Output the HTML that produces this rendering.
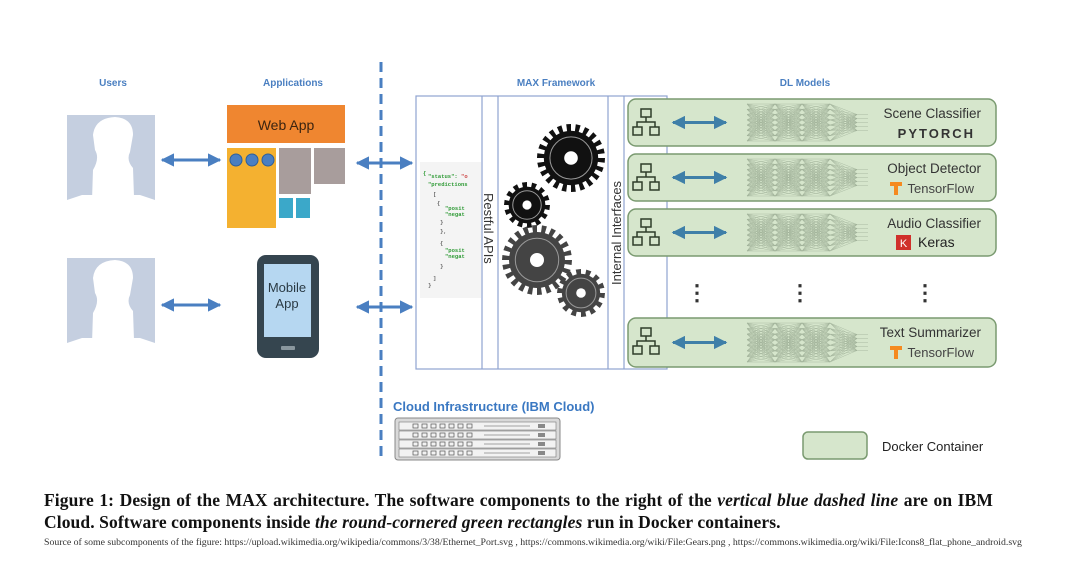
<!DOCTYPE html>
<html><head><meta charset="utf-8"><style>
html,body{margin:0;padding:0;background:#fff;}
body{width:1080px;height:569px;overflow:hidden;position:relative;font-family:"Liberation Sans",sans-serif;}
.cap{position:absolute;left:44px;font-family:"Liberation Serif",serif;font-weight:bold;font-size:17.5px;color:#111;white-space:nowrap;letter-spacing:0.1px}
.src{position:absolute;left:44px;top:537px;font-family:"Liberation Serif",serif;font-size:9.8px;color:#333;white-space:nowrap}
</style></head><body>
<svg id="s" width="1080" height="569" style="position:absolute;left:0;top:0">
<defs>
<marker id="ah" viewBox="0 0 10 10" refX="9" refY="5" markerWidth="4.5" markerHeight="4.5" orient="auto-start-reverse"><path d="M0,0 L10,5 L0,10 z" fill="#4a7fc1"/></marker>
<marker id="ah2" viewBox="0 0 10 10" refX="9" refY="5" markerWidth="4.5" markerHeight="4.5" orient="auto-start-reverse"><path d="M0,0 L10,5 L0,10 z" fill="#3f7fa8"/></marker>
</defs>
<g font-family="Liberation Sans" font-weight="bold" font-size="10" fill="#4a7fc1" text-anchor="middle">
<text x="113" y="86">Users</text><text x="293" y="86">Applications</text>
<text x="556" y="86">MAX Framework</text><text x="805" y="86">DL Models</text>
</g>
<line x1="381" y1="62" x2="381" y2="462" stroke="#4a7fc1" stroke-width="3" stroke-dasharray="10,6"/>
<g id="u1">
<path d="M67,115 H155 V200 L140,195 H82 L67,200 Z" fill="#c5cfe0"/>
<path d="M92,200 L93,170 Q100,158 95,150 L93,135 Q95,118 115,117 Q133,118 133,135 L130,152 Q126,160 133,168 L134,197 Z" fill="#fff"/>
</g>
<use href="#u1" transform="translate(0,143)"/>
<g stroke="#4a7fc1" stroke-width="3" marker-start="url(#ah)" marker-end="url(#ah)">
<line x1="162" y1="160" x2="220" y2="160"/><line x1="162" y1="305" x2="220" y2="305"/>
<line x1="357" y1="163" x2="412" y2="163"/><line x1="357" y1="307" x2="412" y2="307"/>
</g>
<rect x="227" y="105" width="118" height="38" fill="#ef8630"/>
<text x="286" y="130" text-anchor="middle" font-size="14" fill="#3b2410">Web App</text>
<rect x="227" y="148" width="49" height="80" fill="#f4b130"/>
<rect x="279" y="148" width="32" height="46" fill="#a89d9c"/>
<rect x="314" y="148" width="31" height="36" fill="#a89d9c"/>
<rect x="279" y="198" width="14" height="20" fill="#3ba8c9"/>
<rect x="296" y="198" width="14" height="20" fill="#3ba8c9"/>
<g fill="#4a7fc1" stroke="#2d5f9a" stroke-width="1"><circle cx="236" cy="160" r="6"/><circle cx="252" cy="160" r="6"/><circle cx="268" cy="160" r="6"/></g>
<rect x="257" y="255" width="62" height="103" rx="9" fill="#35454f"/>
<rect x="264" y="264" width="47" height="73" fill="#b6d7f1"/>
<rect x="281" y="346" width="14" height="4" rx="1" fill="#8a979e"/>
<text x="287" y="292" text-anchor="middle" font-size="13" fill="#2a3a44">Mobile</text>
<text x="287" y="308" text-anchor="middle" font-size="13" fill="#2a3a44">App</text>
<rect x="420" y="162" width="61" height="136" fill="#f4f4f4"/>
<g font-family="Liberation Mono" font-size="5.5" font-weight="bold" fill="#2e9a35">
<text x="423" y="175">{</text><text x="428" y="178">"status": <tspan fill="#c44">"o</tspan></text><text x="428" y="186">"predictions</text>
<text x="433" y="196" fill="#666">[</text><text x="437" y="205" fill="#666">{</text>
<text x="445" y="210">"posit</text><text x="445" y="216">"negat</text><text x="440" y="224" fill="#666">}</text>
<text x="440" y="233" fill="#666">},</text><text x="440" y="245" fill="#666">{</text>
<text x="445" y="252">"posit</text><text x="445" y="258">"negat</text><text x="440" y="268" fill="#666">}</text>
<text x="433" y="280" fill="#666">]</text><text x="428" y="287" fill="#666">}</text>
</g>
<g fill="none" stroke="#8fa4d0" stroke-width="1.2">
<rect x="416" y="96" width="251" height="273"/>
<line x1="482" y1="96" x2="482" y2="369"/><line x1="498" y1="96" x2="498" y2="369"/>
<line x1="608" y1="96" x2="608" y2="369"/><line x1="624" y1="96" x2="624" y2="369"/>
</g>
<text transform="translate(484,193) rotate(90)" font-size="13" fill="#333">Restful APIs</text>
<text transform="translate(621,285) rotate(-90)" font-size="13" fill="#333">Internal Interfaces</text>
<g id="gears"></g>
<g id="dl"></g>
<g font-size="22" fill="#333" font-weight="bold" text-anchor="middle">
<text x="697" y="300">⋮</text><text x="800" y="300">⋮</text><text x="925" y="300">⋮</text></g>
<text x="393" y="411" font-size="13" font-weight="bold" fill="#3a78c2">Cloud Infrastructure (IBM Cloud)</text>
<rect x="395" y="418" width="165" height="42" rx="3" fill="#d9d9d9" stroke="#888"/>
<g id="srv"></g>
<rect x="803" y="432" width="64" height="27" rx="5" fill="#d6e6cc" stroke="#7a9a70" stroke-width="1.5"/>
<text x="882" y="451" font-size="13" fill="#222">Docker Container</text>
</svg>
<div class="cap" style="top:490px;word-spacing:1px">Figure 1: Design of the MAX architecture. The software components to the right of the <i>vertical blue dashed line</i> are on IBM</div>
<div class="cap" style="top:512px">Cloud. Software components inside <i>the round-cornered green rectangles</i> run in Docker containers.</div>
<div class="src">Source of some subcomponents of the figure: https://upload.wikimedia.org/wikipedia/commons/3/38/Ethernet_Port.svg , https://commons.wikimedia.org/wiki/File:Gears.png , https://commons.wikimedia.org/wiki/File:Icons8_flat_phone_android.svg</div>
<script>
const NS="http://www.w3.org/2000/svg";
function el(t,a,p){const e=document.createElementNS(NS,t);for(const k in a)e.setAttribute(k,a[k]);p.appendChild(e);return e;}
function gear(p,cx,cy,r,n,col){let d="";const ri=r*0.8;for(let i=0;i<n*2;i++){const a0=i*Math.PI/n,a1=(i+1)*Math.PI/n;const rr=i%2?ri:r;d+=(i?"L":"M")+(cx+rr*Math.cos(a0)).toFixed(1)+","+(cy+rr*Math.sin(a0)).toFixed(1)+"L"+(cx+rr*Math.cos(a1)).toFixed(1)+","+(cy+rr*Math.sin(a1)).toFixed(1);}d+="Z";el("path",{d:d,fill:col},p);el("circle",{cx:cx,cy:cy,r:r*0.62,fill:"none",stroke:"#999","stroke-width":1},p);el("circle",{cx:cx,cy:cy,r:r*0.2,fill:"#fff"},p);}
const g=document.getElementById("gears");
gear(g,571,158,34,22,"#111");gear(g,527,205,23,14,"#111");gear(g,537,260,35,22,"#444");gear(g,581,293,24,14,"#444");
const dl=document.getElementById("dl");
const rows=[[99,47,"Scene Classifier","pt"],[154,47,"Object Detector","tf"],[209,47,"Audio Classifier","k"],[318,49,"Text Summarizer","tf"]];
rows.forEach(([y,h,name,fw])=>{
el("rect",{x:628,y:y,width:368,height:h,rx:8,fill:"#d6e6cc",stroke:"#7a9a70","stroke-width":1.5},dl);
const ix=632,iy=y+10;
const ic=el("g",{fill:"none",stroke:"#2f3d2a","stroke-width":1.5},dl);
el("rect",{x:ix+9,y:iy,width:10,height:8},ic);el("rect",{x:ix+1,y:iy+18,width:9,height:8},ic);el("rect",{x:ix+18,y:iy+18,width:9,height:8},ic);
el("path",{d:`M${ix+14},${iy+8}V${iy+13}M${ix+5},${iy+18}V${iy+13}H${ix+23}V${iy+18}`},ic);
el("line",{x1:673,y1:y+h/2,x2:726,y2:y+h/2,stroke:"#3f7fa8","stroke-width":3,"marker-start":"url(#ah2)","marker-end":"url(#ah2)"},dl);
const cols=[747,775,802,830];const nt=y+5,nb=y+h-5;const ng=el("g",{stroke:"#8a9c84","stroke-width":0.4,opacity:0.7},dl);
for(let c=0;c<3;c++){for(let i=0;i<8;i++)for(let j=0;j<8;j++){el("line",{x1:cols[c],y1:nt+i*(nb-nt)/7,x2:cols[c+1],y2:nt+j*(nb-nt)/7},ng);}}
for(let i=0;i<8;i++)for(let j=0;j<5;j++)el("line",{x1:830,y1:nt+i*(nb-nt)/7,x2:857,y2:y+h/2-8+j*4},ng);
for(let j=0;j<5;j++)el("line",{x1:857,y1:y+h/2-8+j*4,x2:868,y2:y+h/2-8+j*4},ng);
const t=el("text",{x:981,y:y+19,"font-size":13.5,fill:"#333","text-anchor":"end"},dl);t.textContent=name;
if(fw=="pt"){const f=el("text",{x:975,y:y+39,"font-size":13,"font-weight":"bold",fill:"#333","text-anchor":"end","letter-spacing":"2"},dl);f.textContent="PYTORCH";}
if(fw=="tf"){el("path",{d:`M890,${y+28}h12v4h-4v9h-4v-9h-4z`,fill:"#f58a1f"},dl);const f=el("text",{x:974,y:y+39,"font-size":13,fill:"#444","text-anchor":"end"},dl);f.textContent="TensorFlow";}
if(fw=="k"){el("rect",{x:896,y:y+26,width:15,height:15,fill:"#d0302b"},dl);const k=el("text",{x:903.5,y:y+38,"font-size":11,fill:"#fff","text-anchor":"middle"},dl);k.textContent="K";const f=el("text",{x:918,y:y+38,"font-size":14,fill:"#222"},dl);f.textContent="Keras";}
});
const s=document.getElementById("srv");
for(let r=0;r<4;r++){const y=422+r*9;el("rect",{x:399,y:y,width:157,height:8,fill:"#f2f2f2",stroke:"#777","stroke-width":0.6},s);
for(let i=0;i<7;i++)el("rect",{x:413+i*9,y:y+2,width:5,height:4,fill:"none",stroke:"#555","stroke-width":0.7},s);
el("line",{x1:484,y1:y+4,x2:530,y2:y+4,stroke:"#888","stroke-width":0.8},s);
el("rect",{x:538,y:y+2,width:7,height:4,fill:"#888"},s);}
</script>
</body></html>
